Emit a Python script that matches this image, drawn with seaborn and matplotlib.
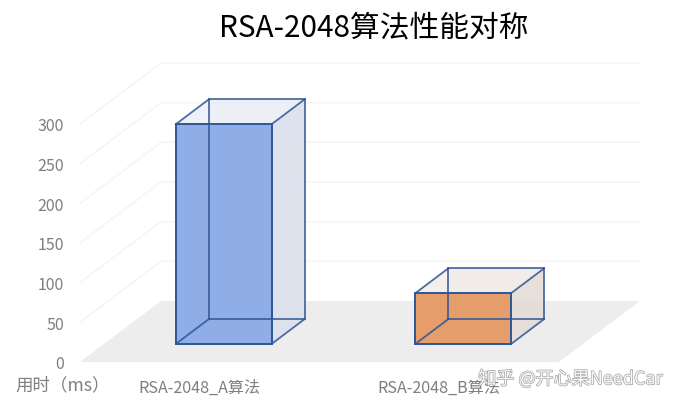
import matplotlib
matplotlib.use("Agg")
import matplotlib.pyplot as plt
import matplotlib.patheffects as pe
from matplotlib.patches import Polygon
from matplotlib.transforms import ScaledTranslation
import pandas as pd
import seaborn as sns

categories = ["RSA-2048_A算法", "RSA-2048_B算法"]
values = [277, 64]
bar_colors = ["#8faee8", "#e59d6b"]
back_colors = ["#eceef5", "#f1ebe6"]
side_colors = ["#d6dcea", "#e2d9d2"]
y_ticks = [0, 50, 100, 150, 200, 250, 300]

sns.set_theme(style="white")
plt.rcParams["font.family"] = ["Noto Sans CJK SC", "DejaVu Sans"]

W, H = 681, 408
fig = plt.figure(figsize=(W / 100, H / 100), dpi=100, facecolor="white")
ax = fig.add_axes([80 / W, (H - 362) / H, 479 / W, 238 / H])

df = pd.DataFrame({"category": categories, "value": values})
sns.barplot(data=df, x="category", y="value", hue="category", palette=bar_colors,
            width=0.4, saturation=1, legend=False, ax=ax, zorder=5)
ax.set_xlim(-0.5, 1.5)
ax.set_ylim(0, 300)

# oblique projection: full plot depth shifts 81 px right and 61 px up
DX = 81 / (479 / 2)
DY = 61 / (238 / 300)
D0, D1 = 18 / 61, 43 / 61


def proj(x, y, d):
    return (x + DX * d, y + DY * d)


# wall gridlines
GRID = "#f5f5f5"
for t in y_ticks[1:]:
    xs, ys = zip(proj(-0.5, t, 0), proj(-0.5, t, 1), proj(1.5, t, 1))
    ax.plot(xs, ys, color=GRID, lw=1.2, clip_on=False, zorder=1)

# floor
ax.add_patch(Polygon([proj(-0.5, 0, 0), proj(1.5, 0, 0), proj(1.5, 0, 1), proj(-0.5, 0, 1)],
                     closed=True, fc="#ededed", ec="none", clip_on=False, zorder=2))

EDGE = "#2f5597"
for patch, v, back, side in zip(ax.patches, values, back_colors, side_colors):
    x0 = patch.get_x()
    x1 = x0 + patch.get_width()
    # shift the library's bar to its depth in the oblique view
    patch.set_x(x0 + DX * D0)
    patch.set_y(DY * D0)
    patch.set_edgecolor(EDGE)
    patch.set_linewidth(1.4)
    patch.set_clip_on(False)

    def face(pts, fc, alpha, z):
        ax.add_patch(Polygon(pts, closed=True, fc=fc, ec="none", alpha=alpha, clip_on=False, zorder=z))

    # back, right, top faces
    face([proj(x0, 0, D1), proj(x1, 0, D1), proj(x1, v, D1), proj(x0, v, D1)], back, 0.7, 3)
    face([proj(x1, 0, D0), proj(x1, 0, D1), proj(x1, v, D1), proj(x1, v, D0)], side, 0.7, 3)
    face([proj(x0, v, D0), proj(x1, v, D0), proj(x1, v, D1), proj(x0, v, D1)], back, 0.8, 3)

    # edges of the box
    segs = [
        (proj(x0, 0, D0), proj(x0, 0, D1)), (proj(x1, 0, D0), proj(x1, 0, D1)),
        (proj(x0, v, D0), proj(x0, v, D1)), (proj(x1, v, D0), proj(x1, v, D1)),
        (proj(x0, 0, D1), proj(x1, 0, D1)), (proj(x0, v, D1), proj(x1, v, D1)),
        (proj(x0, 0, D1), proj(x0, v, D1)), (proj(x1, 0, D1), proj(x1, v, D1)),
    ]
    for a, b in segs:
        ax.plot([a[0], b[0]], [a[1], b[1]], color=EDGE, lw=1.3, alpha=0.85,
                clip_on=False, zorder=6, solid_capstyle="round")

sns.despine(ax=ax, left=True, bottom=True)
ax.patch.set_alpha(0)
ax.set_xlabel("")
ax.set_ylabel("")
ax.grid(False)
ax.set_yticks(y_ticks)
ax.tick_params(axis="y", length=0, pad=11.5, labelsize=11.5, labelcolor="#7f7f7f")
ax.tick_params(axis="x", length=0, pad=13, labelsize=11.6, labelcolor="#7f7f7f")
down = ScaledTranslation(0, -0.7 / 72, fig.dpi_scale_trans)
for lab in ax.get_yticklabels():
    lab.set_transform(lab.get_transform() + down)
for lab in ax.get_xticklabels():
    lab.set_transform(lab.get_transform() + ScaledTranslation(-0.5 / 72, 0, fig.dpi_scale_trans))

fig.text(374 / W, 1 - 28 / H, "RSA-2048算法性能对称", ha="center", va="center",
         fontsize=21.4, color="#000000")
fig.text(15 / W, 1 - 385 / H, "用时（ms）", ha="left", va="center",
         fontsize=12.6, color="#7f7f7f")
fig.text(570.5 / W, 1 - 379 / H, "知乎 @开心果NeedCar", ha="center", va="center",
         fontsize=13, color="#ffffff", alpha=0.9, zorder=20,
         path_effects=[pe.withStroke(linewidth=1.0, foreground="#9a9a9a")])

fig.savefig("out.png", dpi=100)
